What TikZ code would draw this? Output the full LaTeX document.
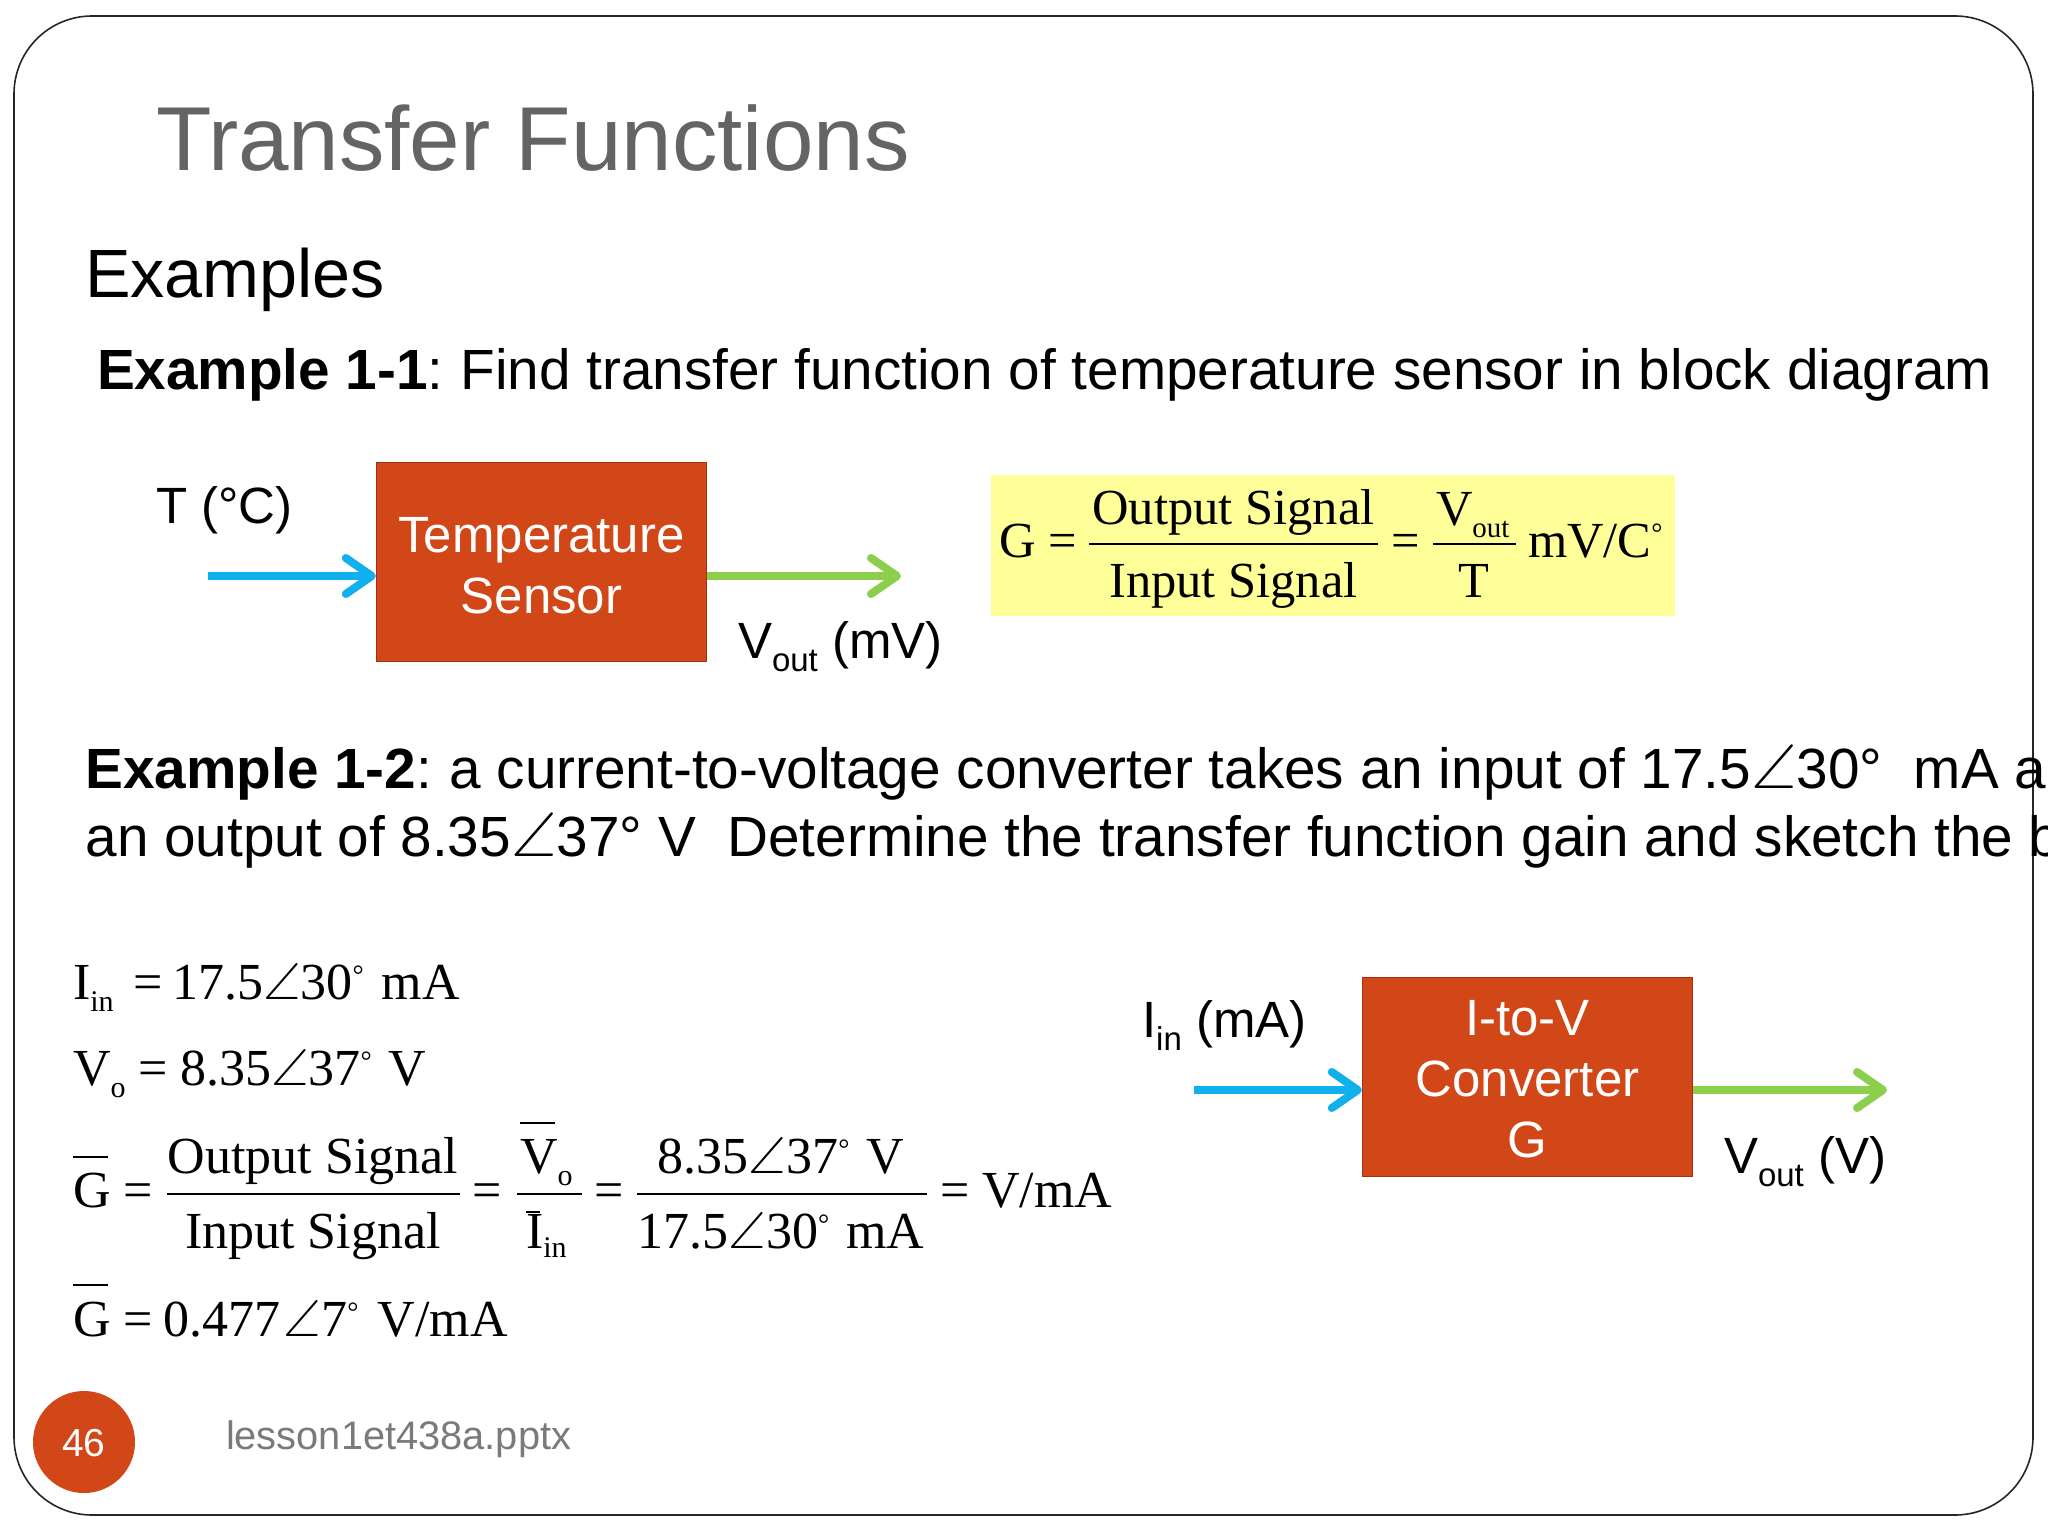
\documentclass[tikz,border=0pt]{standalone}
\usepackage{fontspec}
\usepackage{amssymb}
\usepackage{graphicx}
\setmainfont{Liberation Sans}
\newfontfamily\tmsfont{Liberation Serif}
\usetikzlibrary{arrows.meta}
\definecolor{boxfill}{HTML}{D24718}
\definecolor{boxedge}{HTML}{A5300F}
\definecolor{inblue}{HTML}{0FB0EC}
\definecolor{outgreen}{HTML}{8CCF4D}
\definecolor{eqyellow}{HTML}{FFFF99}
\definecolor{titlegrey}{HTML}{646464}
\definecolor{footgrey}{HTML}{7A7A7A}
\newcommand\fsz[1]{\fontsize{#1}{#1}\selectfont}
\newcommand\angl[1]{\scalebox{#1}{\fontsize{10}{12}\selectfont$\angle$}}
\newcommand\sbs[2]{{\fsz{#1}\raisebox{-.42em}{#2}}}
\newcommand\sbshi[2]{{\fsz{#1}\raisebox{-.3em}{#2}}}
\newcommand\dgs{{\fsz{28}\raisebox{15pt}{°}}}
\tikzset{
  txt/.style={anchor=base west,inner sep=0pt,outer sep=0pt},
  ctr/.style={anchor=base,inner sep=0pt,outer sep=0pt},
  sans/.style={font=\fsz{51}},
  body/.style={font=\fsz{56.7}},
  yserif/.style={font=\tmsfont\fsz{50.5}},
  serif/.style={font=\tmsfont\fsz{52}},
  blockbox/.style={draw=boxedge,line width=1.4pt,fill=boxfill,text=white,minimum width=330pt,minimum height=199pt,inner sep=0pt,align=center,font=\fontsize{51}{61}\selectfont},
  sig/.style={line width=8pt,-{Straight Barb[length=26pt,width=36pt,round]}},
  fracbar/.style={line width=2pt,black},
  ovbar/.style={line width=2pt,black},
}
\begin{document}
\begin{tikzpicture}[x=1pt,y=-1pt]
\useasboundingbox (0,0) rectangle (2048,1536);
\fill[white] (0,0) rectangle (2048,1536);
\draw[line width=1.6pt,black!85,rounded corners=78pt] (14,16) rectangle (2033,1515);
\begin{scope}
\clip (0,0) rectangle (2048,1536);
\node[txt,font=\fsz{90.8},text=titlegrey] (title) at (156,170) {Transfer Functions};
\node[txt,font=\fsz{68.3}] (examples) at (85,297) {Examples};
\node[txt,body] (ex1) at (97,389) {\textbf{Example 1-1}:\kern1pt\ Find transfer function of temperature sensor in block diagram};
\node[txt,body] (ex2a) at (85.5,788) {\textbf{Example 1-2}:\kern1.5pt\ a current-to-voltage converter takes an input of 17.5\angl{6.3}30°\ \ mA a};
\node[txt,body] (ex2b) at (85.5,856) {an output of 8.35\angl{6.3}37° V\ \ Determine the transfer function gain and sketch the b};
\end{scope}

% first block
\node[blockbox] (sensor) at (541.5,562) {\rule{0pt}{42.5pt}Temperature\\Sensor};
\node[txt,sans] (tlabel) at (156,523) {T (°C)};
\coordinate (t1) at (208,576);
\coordinate (t2) at (901,576);
\draw[sig,inblue] (t1) -- (t1 -| sensor.west);
\draw[sig,outgreen] (t2 -| sensor.east) -- (t2);
\node[txt,sans] (vlabel) at (738,658) {V\sbs{33}{out} (mV)};

% yellow equation
\node[fill=eqyellow,minimum width=684pt,minimum height=141pt,inner sep=0pt] (yellow) at (1332.5,545.5) {};
\node[txt,yserif] (yg) at (999,557) {G =};
\node[ctr,yserif] (youtput) at (1233.5,524) {Output Signal};
\node[ctr,yserif] (yinput) at (1233.5,597) {Input Signal};
\coordinate (yb1) at (1089,544);
\coordinate (yb2) at (1378,544);
\draw[fracbar] (yb1) -- (yb2);
\node[txt,yserif] (yeq) at (1391,557) {=};
\node[txt,yserif] (yv) at (1436,525) {V\sbs{29}{out}};
\node[ctr,yserif] (yt) at (1474,597) {T};
\coordinate (yb3) at (1433,544);
\coordinate (yb4) at (1516,544);
\draw[fracbar] (yb3) -- (yb4);
\node[txt,yserif] (yunit) at (1528,557) {mV/C\dgs};

% left equations
\node[txt,serif] (iin) at (73,999) {I\sbs{30}{in}};
\node[txt,serif] (iineq) at (133,999) {=};
\node[txt,serif] (iinval) at (172,999) {17.5\angl{5.2}30\dgs\ \kern5pt mA};
\node[txt,serif] (vo) at (73,1085) {V\sbs{30}{o}};
\node[txt,serif] (voeq) at (138,1085) {=};
\node[txt,serif] (voval) at (180,1085) {8.35\angl{5.2}37\dgs\ \kern4pt V};
\node[txt,serif] (g1) at (73,1207) {G =};
\coordinate (ov1a) at (73,1157);
\coordinate (ov1b) at (108,1157);
\draw[ovbar] (ov1a) -- (ov1b);
\node[ctr,serif] (foutput) at (313,1173) {Output Signal};
\node[ctr,serif] (finput) at (313,1248) {Input Signal};
\coordinate (fb1) at (167,1194);
\coordinate (fb2) at (460,1194);
\draw[fracbar] (fb1) -- (fb2);
\node[txt,serif] (eq2) at (472,1207) {=};
\node[txt,serif] (fvo) at (520,1173) {V\sbs{30}{o}};
\coordinate (ov2a) at (520,1123);
\coordinate (ov2b) at (555,1123);
\draw[ovbar] (ov2a) -- (ov2b);
\node[txt,serif] (fiin) at (526,1248) {I\sbshi{30}{in}};
\coordinate (ov3a) at (526,1212);
\coordinate (ov3b) at (540,1212);
\draw[ovbar] (ov3a) -- (ov3b);
\coordinate (fb3) at (517,1194);
\coordinate (fb4) at (582,1194);
\draw[fracbar] (fb3) -- (fb4);
\node[txt,serif] (eq3) at (594,1207) {=};
\node[ctr,serif] (fnum) at (781,1173) {8.35\angl{5.2}37\dgs\ \kern4pt V};
\node[ctr,serif] (fden) at (781,1248) {17.5\angl{5.2}30\dgs\ \kern4pt mA};
\coordinate (fb5) at (637,1194);
\coordinate (fb6) at (927,1194);
\draw[fracbar] (fb5) -- (fb6);
\node[txt,serif] (eq4) at (940,1207) {= V/mA};
\node[txt,serif] (g2) at (73,1336) {G =\kern-2pt\ 0.477\kern3pt\angl{5.2}7\dgs\ \kern6pt V/mA};
\coordinate (ov4a) at (73,1285);
\coordinate (ov4b) at (108,1285);
\draw[ovbar] (ov4a) -- (ov4b);

% second block
\node[blockbox] (conv) at (1527.5,1077) {\rule{0pt}{39.5pt}I-to-V\\Converter\\G};
\node[txt,sans] (ilabel) at (1142,1037) {I\sbs{33}{in} (mA)};
\coordinate (c1) at (1194,1090);
\coordinate (c2) at (1887,1090);
\draw[sig,inblue] (c1) -- (c1 -| conv.west);
\draw[sig,outgreen] (c2 -| conv.east) -- (c2);
\node[txt,sans] (v2label) at (1724,1173) {V\sbs{33}{out} (V)};

% footer
\node[circle,fill=boxfill,minimum size=102pt,inner sep=0pt] (pagedisc) at (84,1442) {};
\node[ctr,font=\fsz{39},text=white] (pagenum) at (84,1456) {46};
\node[txt,font=\fsz{39.8},text=footgrey] (footer) at (226,1449) {lesson1et438a.pptx};
\end{tikzpicture}
\end{document}
